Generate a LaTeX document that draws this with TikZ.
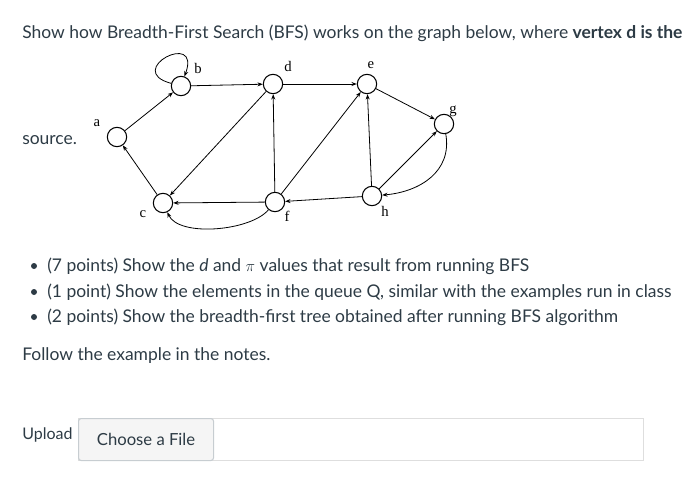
\documentclass[tikz,border=0pt]{standalone}
\usepackage{fontspec}
\setmainfont{Lato}
\newfontfamily\graphfont{Liberation Serif}
\usepackage{tikz}
\usetikzlibrary{arrows.meta}
\usetikzlibrary{positioning}
\definecolor{txtcol}{RGB}{45,59,69}
\definecolor{btnfill}{RGB}{245,245,245}
\definecolor{btndraw}{RGB}{199,205,209}
\definecolor{fielddraw}{RGB}{222,222,222}
\tikzstyle{vertex}=[circle, draw=black, thick, fill=white, minimum size=14.5pt, inner sep=0pt]
\tikzstyle{vlabel}=[inner sep=0pt, font=\graphfont\fontsize{11}{11}\selectfont]
\tikzstyle{prose}=[anchor=west, inner sep=0pt, text=txtcol, font=\fontsize{13.1}{15}\selectfont]
\tikzstyle{bullet}=[circle, fill=txtcol, inner sep=0pt, minimum size=4.5pt]

\begin{document}
\begin{tikzpicture}[x=0.75pt, y=-0.75pt, >={Stealth[length=4pt,width=3pt]}]
	\useasboundingbox (0,0) rectangle (700,500);
	% question text
	\node (q1) at (22,33) [prose] {Show how Breadth-First Search (BFS) works on the graph below, where \textbf{vertex d is the}};
	\node (q2) at (22,140) [prose] {source.};
	% graph
	\node (a) at (117,137) [vertex] {};
	\node (b) at (181,86) [vertex] {};
	\node (d) at (273,84) [vertex] {};
	\node (e) at (367,84) [vertex] {};
	\node (g) at (444,124) [vertex] {};
	\node (c) at (163,203) [vertex] {};
	\node (f) at (275,202) [vertex] {};
	\node (h) at (372,196) [vertex] {};
	\node (la) at (97,123) [vlabel] {a};
	\node (lb) at (198,68) [vlabel] {b};
	\node (ld) at (288,66) [vlabel] {d};
	\node (le) at (371,65) [vlabel] {e};
	\node (lg) at (453,111) [vlabel] {g};
	\node (lc) at (143,214) [vlabel] {c};
	\node (lf) at (287,216) [vlabel] {f};
	\node (lh) at (385,211) [vlabel] {h};
	\path[->, line width=0.6pt]
		(a) edge (b)
		(b) edge (d)
		(c) edge (a)
		(d) edge (c)
		(f) edge (c)
		(f) edge (d)
		(f) edge (e)
		(d) edge (e)
		(e) edge (g)
		(h) edge (e)
		(h) edge (g)
		(h) edge (f);
	\path[->, line width=0.6pt]
		(b) edge [out=165, in=70, looseness=8.5] (b)
		(g) edge [out=-80, in=5, looseness=1.1] (h)
		(f) edge [out=-130, in=-65, looseness=0.7] (c);
	% tasks
	\node (t1) at (47,266) [prose] {(7 points) Show the \textit{d} and $\pi$ values that result from running BFS};
	\node (t2) at (47,292) [prose] {(1 point) Show the elements in the queue Q, similar with the examples run in class};
	\node (t3) at (47,317) [prose] {(2 points) Show the breadth-first tree obtained after running BFS algorithm};
	\node (s1) at (34,266) [bullet] {};
	\node (s2) at (34,292) [bullet] {};
	\node (s3) at (34,317) [bullet] {};
	\node (note) at (22,356) [prose] {Follow the example in the notes.};
	% upload
	\node (up) at (22,435) [prose, font=\fontsize{12}{14}\selectfont] {Upload};
	\node (field) at (78,418) [anchor=north west, draw=fielddraw, line width=0.8pt, minimum width=565*0.75pt, minimum height=42*0.75pt, inner sep=0pt] {};
	\node (btn) at (78,418) [anchor=north west, draw=btndraw, fill=btnfill, rounded corners=2pt, line width=0.8pt, minimum width=135*0.75pt, minimum height=42*0.75pt, inner sep=0pt, text=txtcol, font=\fontsize{12.5}{14}\selectfont] {Choose a File};
\end{tikzpicture}
\end{document}
